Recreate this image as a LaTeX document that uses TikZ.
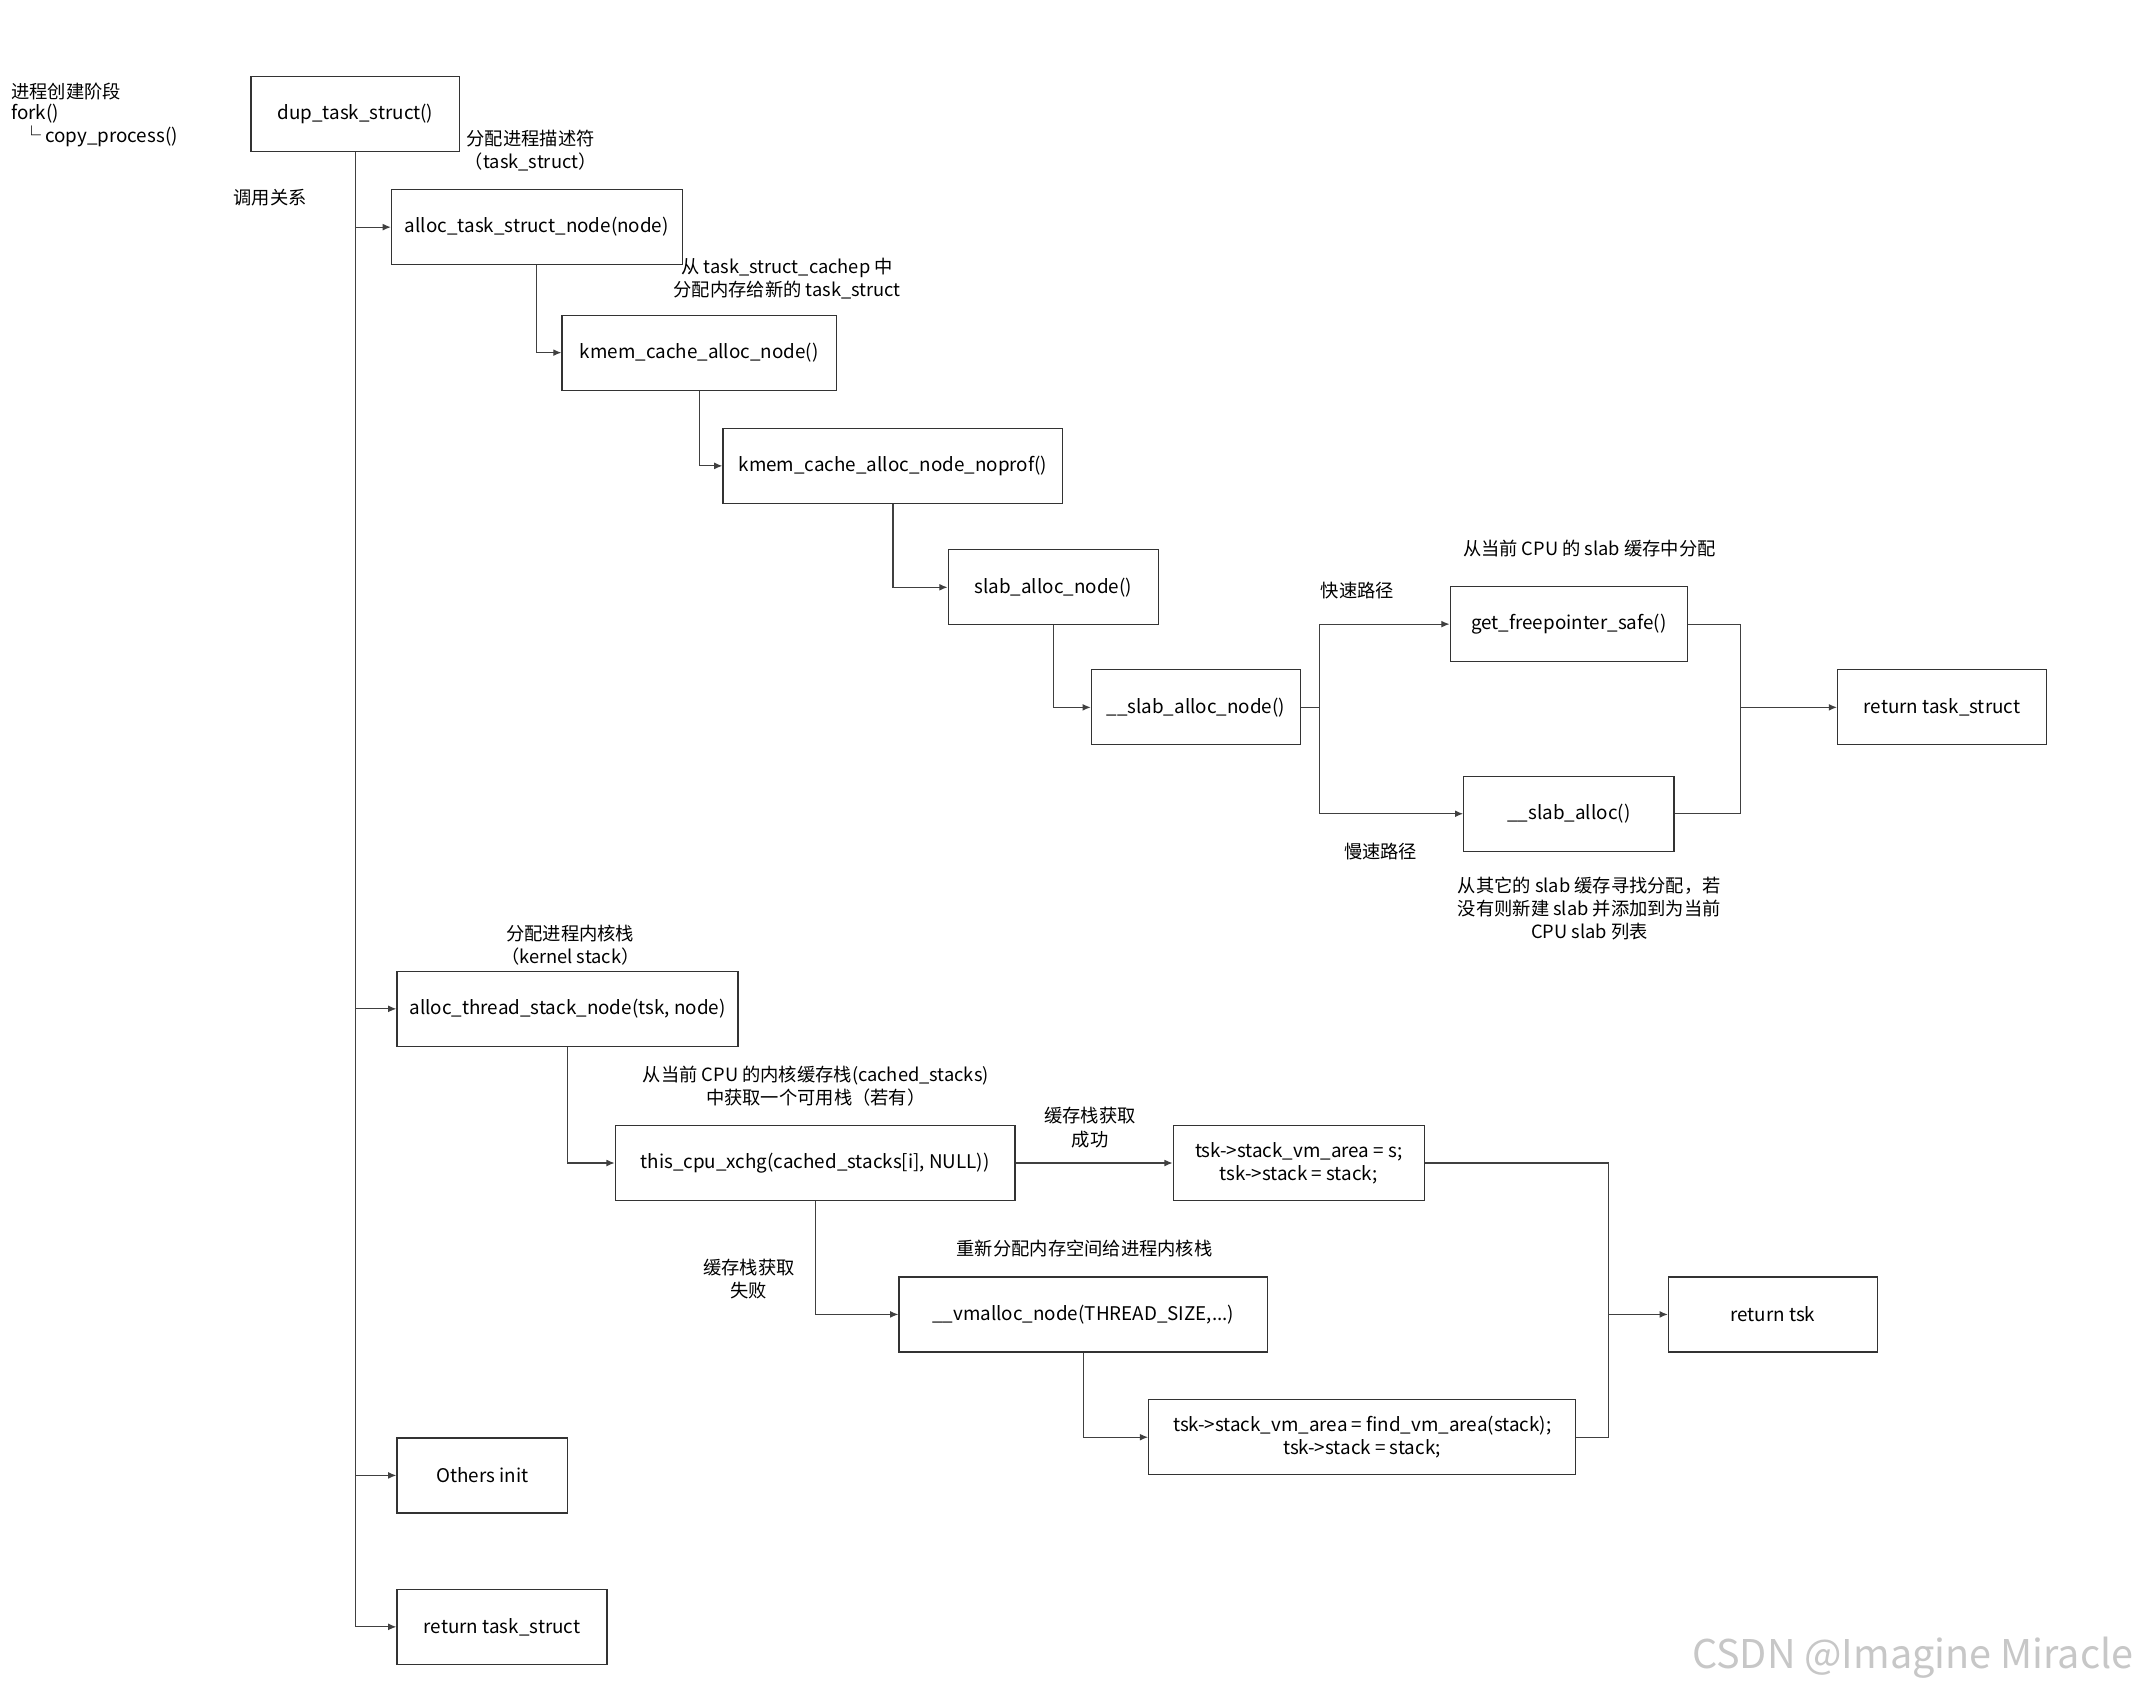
\documentclass[tikz,border=0pt]{standalone}
\usepackage{fontspec}
\setmainfont{Noto Sans CJK SC}
\usetikzlibrary{arrows.meta}
\tikzset{
  fbox/.style={draw=black!80, line width=0.9pt, minimum height=55pt, inner sep=2pt,
    font=\fontsize{13.8}{17}\selectfont, align=center},
  lbl/.style={font=\fontsize{13.4}{17}\selectfont, align=center, inner sep=0pt},
  conn/.style={draw=black!75, line width=0.9pt},
  arr/.style={conn, -{Latex[length=6pt,width=5pt]}},
}
\begin{document}
\begin{tikzpicture}[x=1pt,y=-1pt]
\useasboundingbox (0,0) rectangle (1565,1239);
\fill[white] (0,0) rectangle (1565,1239);

% left header
\node[lbl, anchor=west] (hd1) at (8,67) {进程创建阶段};
\node[lbl, anchor=west, font=\fontsize{13.8}{17}\selectfont] (hd2) at (8,83) {fork()};
\node[lbl, anchor=west, font=\fontsize{13.8}{17}\selectfont] (hd3) at (16,100) {└ copy\_process()};

% boxes upper
\node[fbox, minimum width=153pt] (dup) at (260.5,83.5) {dup\_task\_struct()};
\node[fbox, minimum width=213pt] (ats) at (393.5,166.5) {alloc\_task\_struct\_node(node)};
\node[fbox, minimum width=201pt] (kca) at (512.5,258.5) {kmem\_cache\_alloc\_node()};
\node[fbox, minimum width=249pt] (kcn) at (654.5,341.5) {kmem\_cache\_alloc\_node\_noprof()};
\node[fbox, minimum width=154pt] (san) at (772,430.5) {slab\_alloc\_node()};
\node[fbox, minimum width=153pt] (usan) at (876.5,518.5) {\_\_slab\_alloc\_node()};
\node[fbox, minimum width=174pt] (gfp) at (1150,457.5) {get\_freepointer\_safe()};
\node[fbox, minimum width=154pt] (usa) at (1150,596.5) {\_\_slab\_alloc()};
\node[fbox, minimum width=153pt] (ret1) at (1423.5,518.5) {return task\_struct};

% boxes lower
\node[fbox, minimum width=250pt] (atn) at (416,739.5) {alloc\_thread\_stack\_node(tsk, node)};
\node[fbox, minimum width=293pt] (tcx) at (597.5,852.5) {this\_cpu\_xchg(cached\_stacks[i], NULL))};
\node[fbox, minimum width=184pt] (tsk1) at (952,852.5) {tsk->stack\_vm\_area = s;\\tsk->stack = stack;};
\node[fbox, minimum width=153pt] (rtsk) at (1299.5,963.5) {return tsk};
\node[fbox, minimum width=270pt] (vma) at (794,963.5) {\_\_vmalloc\_node(THREAD\_SIZE,...)};
\node[fbox, minimum width=313pt] (tsk2) at (998.5,1053.5) {tsk->stack\_vm\_area = find\_vm\_area(stack);\\tsk->stack = stack;};
\node[fbox, minimum width=125pt] (oth) at (353.5,1081.5) {Others init};
\node[fbox, minimum width=154pt] (ret2) at (368,1192.5) {return task\_struct};

% labels
\node[lbl] (l1) at (389,110.5) {分配进程描述符\\（task\_struct）};
\node[lbl] (l2) at (198,145) {调用关系};
\node[lbl] (l3) at (577,204.5) {从 task\_struct\_cachep 中\\分配内存给新的 task\_struct};
\node[lbl] (l4) at (1165,402) {从当前 CPU 的 slab 缓存中分配};
\node[lbl] (l5) at (995,433) {快速路径};
\node[lbl] (l6) at (1012,624) {慢速路径};
\node[lbl] (l7) at (1165,666) {从其它的 slab 缓存寻找分配，若\\没有则新建 slab 并添加到为当前\\CPU slab 列表};
\node[lbl] (l8) at (418,693) {分配进程内核栈\\（kernel stack）};
\node[lbl] (l9) at (598,796) {从当前 CPU 的内核缓存栈(cached\_stacks)\\中获取一个可用栈（若有）};
\node[lbl] (l10) at (799,826.5) {缓存栈获取\\成功};
\node[lbl] (l11) at (549,937.5) {缓存栈获取\\失败};
\node[lbl] (l12) at (795,915) {重新分配内存空间给进程内核栈};

% watermark
\node[anchor=east, text=black!22, font=\fontsize{29}{34}\selectfont, inner sep=0pt] (wm) at (1564,1215) {CSDN @Imagine Miracle};

% trunk
\draw[conn] (dup.south) -- (dup.south |- ret2.west);
\foreach \n in {ats,atn,oth,ret2}{
  \draw[arr] (dup.south |- \n.west) -- (\n.west);
}

% upper chain
\draw[arr] (ats.south) |- (kca.west);
\draw[arr] (kca.south) |- (kcn.west);
\draw[arr] (kcn.south) |- (san.west);
\draw[arr] (san.south) |- (usan.west);

% fork / join
\coordinate (fk) at (967,518.5);
\coordinate (jn) at (1276,518.5);
\draw[conn] (usan.east) -- (fk);
\draw[arr] (fk) |- (gfp.west);
\draw[arr] (fk) |- (usa.west);
\draw[conn] (gfp.east) -| (jn);
\draw[conn] (usa.east) -| (jn);
\draw[arr] (jn) -- (ret1.west);

% lower chain
\draw[arr] (atn.south) |- (tcx.west);
\draw[arr] (tcx.east) -- (tsk1.west);
\draw[arr] (tcx.south) |- (vma.west);
\draw[arr] (vma.south) |- (tsk2.west);
\coordinate (j2) at (1179,963.5);
\draw[conn] (tsk1.east) -| (j2);
\draw[conn] (tsk2.east) -| (j2);
\draw[arr] (j2) -- (rtsk.west);
\end{tikzpicture}
\end{document}
